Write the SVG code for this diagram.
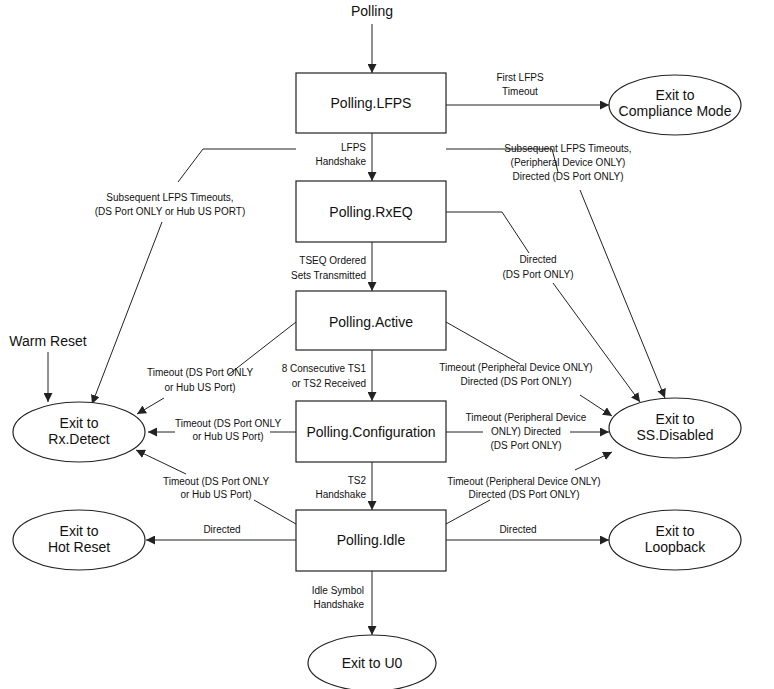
<svg xmlns="http://www.w3.org/2000/svg" width="774" height="689" viewBox="0 0 774 689">
<style>
text{font-family:"Liberation Sans",Arial,sans-serif;fill:#111}
.n{font-size:14px;text-anchor:middle}
.l{font-size:10px;text-anchor:middle}
.r{font-size:10px;text-anchor:end}
rect,ellipse{fill:#fff;stroke:#222;stroke-width:1.2}
#c path{fill:none;stroke:#222;stroke-width:1}
</style>
<defs><marker id="a" viewBox="0 0 10 10" refX="10" refY="5" markerWidth="9" markerHeight="9" orient="auto" markerUnits="userSpaceOnUse"><path d="M0,0 L10,5 L0,10 z" fill="#222"/></marker></defs>
<rect width="774" height="689" fill="#fff" style="stroke:none"/>
<g id="c">
<path d="M372,24V73" marker-end="url(#a)"/>
<path d="M372,133V181" marker-end="url(#a)"/>
<path d="M372,242V291" marker-end="url(#a)"/>
<path d="M372,350V401" marker-end="url(#a)"/>
<path d="M372,462V510" marker-end="url(#a)"/>
<path d="M372,571V635" marker-end="url(#a)"/>
<path d="M48,352V402" marker-end="url(#a)"/>
<path d="M446,105H609" marker-end="url(#a)"/>
<path d="M296,149H203L178,182"/>
<path d="M162,222L92,404" marker-end="url(#a)"/>
<path d="M446,149H552L558,172"/>
<path d="M580,190L665,398" marker-end="url(#a)"/>
<path d="M446,212H502L529,253"/>
<path d="M553,283L640,402" marker-end="url(#a)"/>
<path d="M296,322L228,375"/>
<path d="M164,398L137,414" marker-end="url(#a)"/>
<path d="M446,322L520,364"/>
<path d="M580,395L612,416" marker-end="url(#a)"/>
<path d="M296,432H270"/>
<path d="M175,432H148" marker-end="url(#a)"/>
<path d="M446,432H483"/>
<path d="M570,432H609" marker-end="url(#a)"/>
<path d="M296,524L254,500"/>
<path d="M186,474L136,450" marker-end="url(#a)"/>
<path d="M446,524L490,500"/>
<path d="M575,470L612,452" marker-end="url(#a)"/>
<path d="M296,540H146" marker-end="url(#a)"/>
<path d="M446,540H609" marker-end="url(#a)"/>
</g>
<g id="lbl">
<text class="n" x="372" y="16">Polling</text>
<text class="n" x="48" y="346">Warm Reset</text>
<text class="r" x="366" y="151">LFPS</text><text class="r" x="366" y="165">Handshake</text>
<text class="r" x="366" y="264">TSEQ Ordered</text><text class="r" x="366" y="279">Sets Transmitted</text>
<text class="r" x="366" y="372">8 Consecutive TS1</text><text class="r" x="366" y="387">or TS2 Received</text>
<text class="r" x="366" y="484">TS2</text><text class="r" x="366" y="498">Handshake</text>
<text class="r" x="364" y="594">Idle Symbol</text><text class="r" x="364" y="608">Handshake</text>
<text class="l" x="520" y="81">First LFPS</text><text class="l" x="520" y="95">Timeout</text>
<text class="l" x="170" y="201">Subsequent LFPS Timeouts,</text><text class="l" x="170" y="215">(DS Port ONLY or Hub US PORT)</text>
<text class="l" x="568" y="152">Subsequent LFPS Timeouts,</text><text class="l" x="568" y="166">(Peripheral Device ONLY)</text><text class="l" x="568" y="180">Directed (DS Port ONLY)</text>
<text class="l" x="538" y="263">Directed</text><text class="l" x="538" y="278">(DS Port ONLY)</text>
<text class="l" x="200" y="376">Timeout (DS Port ONLY</text><text class="l" x="200" y="391">or Hub US Port)</text>
<text class="l" x="516" y="371">Timeout (Peripheral Device ONLY)</text><text class="l" x="516" y="385">Directed (DS Port ONLY)</text>
<text class="l" x="228" y="427">Timeout (DS Port ONLY</text><text class="l" x="228" y="440">or Hub US Port)</text>
<text class="l" x="526" y="421">Timeout (Peripheral Device</text><text class="l" x="526" y="435">ONLY) Directed</text><text class="l" x="526" y="449">(DS Port ONLY)</text>
<text class="l" x="216" y="485">Timeout (DS Port ONLY</text><text class="l" x="216" y="498">or Hub US Port)</text>
<text class="l" x="524" y="485">Timeout (Peripheral Device ONLY)</text><text class="l" x="524" y="498">Directed (DS Port ONLY)</text>
<text class="l" x="222" y="533">Directed</text>
<text class="l" x="518" y="533">Directed</text>
</g>
<g id="lfps"><rect x="296" y="73" width="150" height="60"/><text class="n" x="371" y="108">Polling.LFPS</text></g>
<g id="rxeq"><rect x="296" y="181" width="150" height="61"/><text class="n" x="371" y="217">Polling.RxEQ</text></g>
<g id="active"><rect x="296" y="291" width="150" height="59"/><text class="n" x="371" y="327">Polling.Active</text></g>
<g id="config"><rect x="296" y="401" width="150" height="61"/><text class="n" x="371" y="437">Polling.Configuration</text></g>
<g id="idle"><rect x="296" y="510" width="150" height="61"/><text class="n" x="371" y="545">Polling.Idle</text></g>
<g id="compliance"><ellipse cx="675" cy="105" rx="66" ry="30"/><text class="n" x="675" y="100">Exit to</text><text class="n" x="675" y="116">Compliance Mode</text></g>
<g id="rxdetect"><ellipse cx="79" cy="432" rx="66" ry="30"/><text class="n" x="79" y="428">Exit to</text><text class="n" x="79" y="444">Rx.Detect</text></g>
<g id="ssdisabled"><ellipse cx="675" cy="428" rx="66" ry="30"/><text class="n" x="675" y="424">Exit to</text><text class="n" x="675" y="440">SS.Disabled</text></g>
<g id="hotreset"><ellipse cx="79" cy="540" rx="66" ry="30"/><text class="n" x="79" y="536">Exit to</text><text class="n" x="79" y="552">Hot Reset</text></g>
<g id="loopback"><ellipse cx="675" cy="540" rx="66" ry="30"/><text class="n" x="675" y="536">Exit to</text><text class="n" x="675" y="552">Loopback</text></g>
<g id="u0"><ellipse cx="372" cy="663" rx="64" ry="28"/><text class="n" x="372" y="668">Exit to U0</text></g>
</svg>
